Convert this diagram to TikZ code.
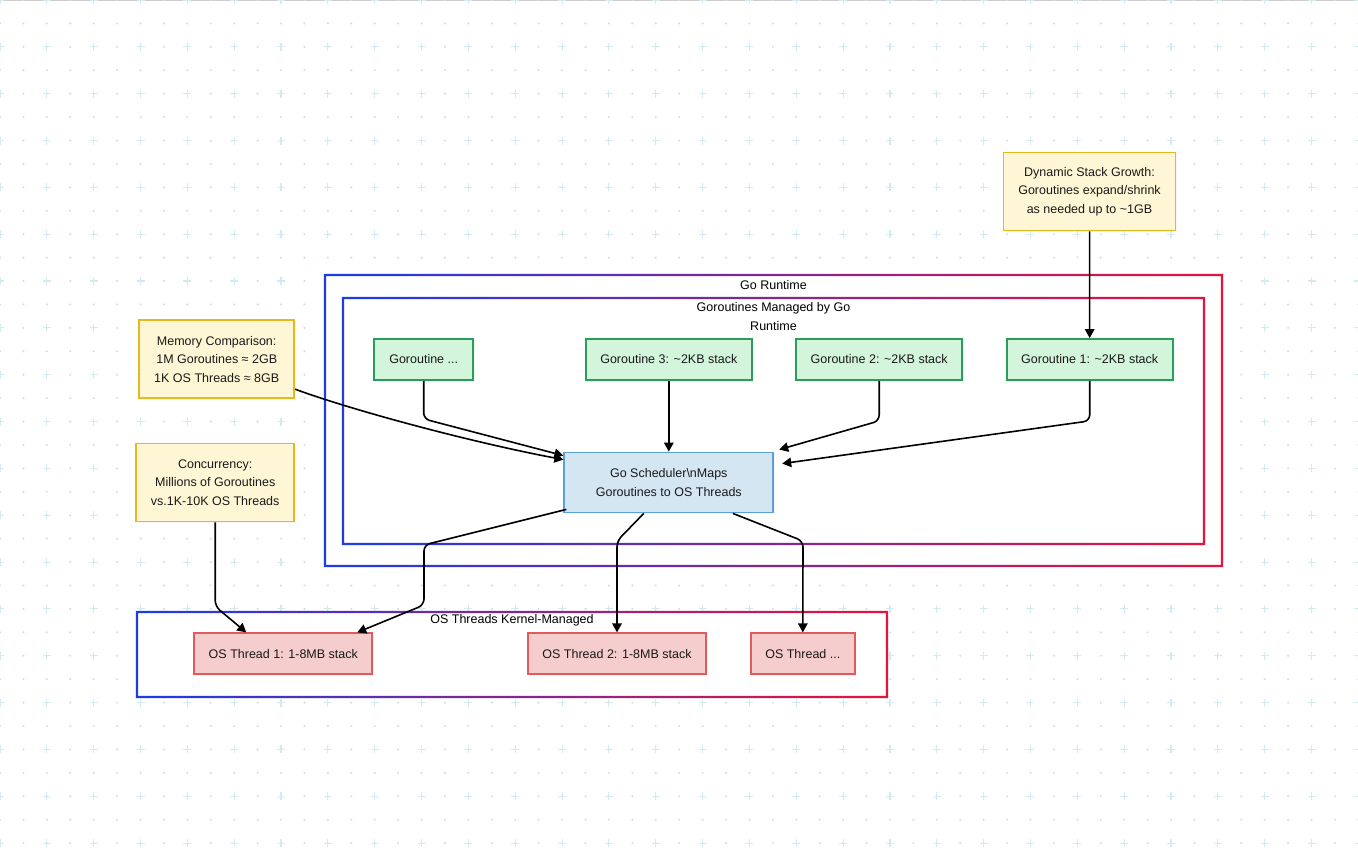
\documentclass[tikz,border=0pt]{standalone}
\usepackage{fontspec}
\setmainfont{Liberation Sans}
\usetikzlibrary{arrows.meta}
\usetikzlibrary{shadows}

\definecolor{gridcol}{HTML}{C9E4EC}
\definecolor{pluscol}{HTML}{D3EAF0}
\definecolor{notefill}{HTML}{FFF6D6}
\definecolor{notedraw}{HTML}{E6B91E}
\definecolor{gofill}{HTML}{D2F5DB}
\definecolor{godraw}{HTML}{2A9D5C}
\definecolor{osfill}{HTML}{F6CDCD}
\definecolor{osdraw}{HTML}{E05C5C}
\definecolor{schedfill}{HTML}{D5E6F3}
\definecolor{scheddraw}{HTML}{5B9FDB}
\definecolor{frameblue}{HTML}{1C3CE6}
\definecolor{framered}{HTML}{E8123C}

\newcommand\gradframe[4]{%
  \fill[white] (#1,#2) rectangle (#3,#4);
  \shade[even odd rule, left color=frameblue, right color=framered]
    (#1-1.1,#2-1.1) rectangle (#3+1.1,#4+1.1) (#1+1.1,#2+1.1) rectangle (#3-1.1,#4-1.1);
}

\tikzset{
  box/.style={draw, line width=1.8pt, minimum height=41pt, inner sep=0pt,
    text=black!90, font=\fontsize{12.5}{15}\selectfont,
    drop shadow={opacity=0.08, shadow xshift=1.5pt, shadow yshift=-1.5pt}},
  goroutine/.style={box, fill=gofill, draw=godraw},
  osthread/.style={box, fill=osfill, draw=osdraw},
  sched/.style={box, fill=schedfill, draw=scheddraw, minimum height=60pt, align=center,
    font=\fontsize{12.5}{18.5}\selectfont},
  note/.style={box, fill=notefill, draw=notedraw, minimum height=78pt, align=center,
    font=\fontsize{12.5}{18.5}\selectfont},
  frametitle/.style={inner sep=0pt, align=center, font=\fontsize{12.5}{19}\selectfont},
  conn/.style={black, line width=1.6pt, rounded corners=6pt,
    -{Triangle[length=9pt,width=9.5pt]}},
}

\begin{document}
\begin{tikzpicture}[x=1pt,y=-1pt]

\useasboundingbox (0,0) rectangle (1358,849);
\fill[white] (0,0) rectangle (1358,849);
\draw[black!20, line width=1pt] (0,0.5) -- (1358,0.5);

\foreach \i in {0,...,58}{
  \foreach \j in {0,...,36}{
    \fill[gridcol] (\i*23.42,\j*23.42) circle (1.2pt);
  }
}
\foreach \i in {0,2,...,58}{
  \foreach \j in {0,2,...,36}{
    \draw[pluscol, line width=1.1pt] (\i*23.42-4,\j*23.42) -- +(8,0)
      (\i*23.42,\j*23.42-4) -- +(0,8);
  }
}

\gradframe{325}{275}{1222}{566}
\gradframe{343}{298}{1204}{544}
\gradframe{137}{612}{887}{697}

\node[frametitle] (rtTitle) at (773.5,285) {Go Runtime};
\node[frametitle] (grTitle) at (773.5,316.5) {Goroutines Managed by Go\\Runtime};
\node[frametitle] (osTitle) at (512,620.5) {OS Threads Kernel-Managed};

\node[goroutine, minimum width=99pt] (gEtc) at (423.7,359.5) {Goroutine ...};
\node[goroutine, minimum width=166pt] (g3) at (668.8,359.5) {Goroutine 3: \textasciitilde2KB stack};
\node[goroutine, minimum width=166pt] (g2) at (879.2,359.5) {Goroutine 2: \textasciitilde2KB stack};
\node[goroutine, minimum width=166pt] (g1) at (1089.7,359.5) {Goroutine 1: \textasciitilde2KB stack};

\node[sched, minimum width=209pt] (sched) at (668.8,482.5) {Go Scheduler\textbackslash nMaps\\Goroutines to OS Threads};

\node[osthread, minimum width=178pt] (os1) at (283.3,653.8) {OS Thread 1: 1-8MB stack};
\node[osthread, minimum width=178pt] (os2) at (617,653.8) {OS Thread 2: 1-8MB stack};
\node[osthread, minimum width=104pt] (osEtc) at (802.8,653.8) {OS Thread ...};

\node[note, minimum width=155pt] (memNote) at (216.7,359.2) {Memory Comparison:\\1M Goroutines ≈ 2GB\\1K OS Threads ≈ 8GB};
\node[note, minimum width=158pt] (concNote) at (215.2,482.5) {Concurrency:\\Millions of Goroutines\\vs.1K-10K OS Threads};
\node[note, minimum width=172pt] (stackNote) at (1089.5,191.5) {Dynamic Stack Growth:\\Goroutines expand/shrink\\as needed up to \textasciitilde1GB};

\draw[conn] (stackNote) -- (g1);
\draw[conn] (gEtc.south) -- ++(0,38) -- ([yshift=-4pt]sched.north west);
\draw[conn] ([yshift=-30pt]memNote.east) .. controls +(60,22) and +(-90,-17) .. ([yshift=-8pt]sched.north west);
\draw[conn] (g3) -- (sched);
\draw[conn] (g2.south) -- ++(0,40) -- ([xshift=5pt,yshift=2pt]sched.north east);
\draw[conn] (g1.south) -- ++(0,40) -- ([xshift=8pt,yshift=-12pt]sched.north east);

\draw[conn] ([xshift=3pt,yshift=4pt]sched.south west) -- (424,545) -- (424,605) -- ([xshift=-16pt]os1.north east);
\draw[conn] (concNote.south) -- ++(0,84) -- ([xshift=-37pt]os1.north);
\draw[conn] ([xshift=-25pt]sched.south) -- (617,541) -- (os2.north);
\draw[conn] ([xshift=64pt]sched.south) -- (803,541) -- (osEtc.north);

\end{tikzpicture}
\end{document}
